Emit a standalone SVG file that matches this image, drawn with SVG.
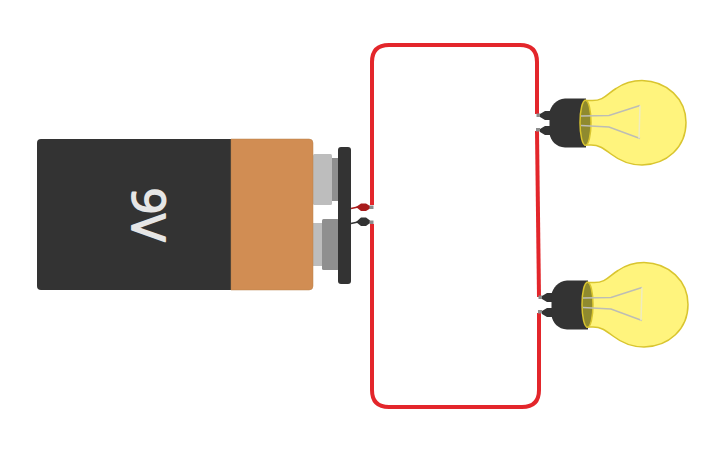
<svg xmlns="http://www.w3.org/2000/svg" width="725" height="453" viewBox="0 0 725 453">
<style>
.wire{fill:none;stroke:#e3262b;stroke-width:4;stroke-linejoin:round}
.glass{fill:#fff47d;stroke:#d9c52f;stroke-width:1.5}
.fil{fill:none;stroke:#bdbdb5;stroke-width:1.5}
.tip{fill:#8c8c8c}
.dark{fill:#333}
</style>
<defs>
<g id="lamp">
<rect class="tip" x="536.500" y="113.500" width="4" height="3.500"/>
<rect class="tip" x="536" y="128" width="4" height="3.500"/>
<path class="dark" d="M540 114L545 111L551 111L551 120L545 120L540 117ZM540 129L545 126L551 126L551 135L545 135L540 132Z"/>
<path class="dark" d="M586 98.500L565 98.500C556 99 551 106 549.500 112L549.500 134C551 141 556 147 565 147.500L586 147.500Z"/>
<path class="glass" d="M585 100.500L591 100.500C604 101 607 94 616 88.500C624 83 633 80.500 642 80.500C667 81 686 99 686 122.500C686 147 667 164.500 642 165C630 165 620 161 611 154C603 148 599 145 591 145L585 145Z"/>
<ellipse cx="585.500" cy="122.700" rx="5.500" ry="22.500" fill="#8f8a2e" stroke="#d9c52f" stroke-width="1.500"/>
<path class="fil" d="M581 116L609 115.500L640 105.500M640 138.500L609 127L581 125.500"/>
<path d="M640 105.500L639 138.500" fill="none" stroke="#f0ecc0" stroke-width="1.500"/>
</g>
</defs>
<rect width="725" height="453" fill="#fff"/>
<g id="battery">
<rect x="313" y="154" width="19" height="51" rx="1.500" fill="#bdbdbd"/>
<rect x="332" y="158" width="7" height="43" fill="#8f8f8f"/>
<rect x="313" y="223" width="10" height="43" fill="#bdbdbd"/>
<rect x="322" y="219" width="17" height="51" rx="1.500" fill="#8f8f8f"/>
<path fill="#333" d="M232 139L41 139Q37 139 37 143L37 286Q37 290 41 290L232 290Z"/>
<path fill="#d18d53" stroke="#b98049" stroke-width="0.500" d="M231 139L309 139Q313 139 313 143L313 286Q313 290 309 290L231 290Z"/>
<text transform="translate(132 214.500) rotate(90)" text-anchor="middle" font-family="'Open Sans','Liberation Sans',sans-serif" font-size="46" fill="#e6e6e6" stroke="#e6e6e6" stroke-width="1.800" stroke-linejoin="round">9V</text>
</g>
<g id="battery-clip">
<rect x="338" y="147" width="13" height="137" rx="3" fill="#333"/>
<path d="M351 208.500L358 207" stroke="#a81c1c" stroke-width="1.500" fill="none"/>
<path fill="#a81c1c" d="M356 207L361 203.500L366 203.500L370 206L370 208.500L366 211L361 211Z"/>
<rect class="tip" x="369.500" y="205.500" width="4" height="3.500"/>
<path d="M351 223.500L358 222" stroke="#333" stroke-width="1.500" fill="none"/>
<path class="dark" d="M356 222L361 217.500L366 217.500L370 220.500L370 223L366 226L361 226Z"/>
<rect class="tip" x="369.500" y="220.500" width="4" height="3.500"/>
</g>
<g id="connectors">
<path class="wire" d="M372 205L372 62Q372 45 389 45L520 45Q537 45 537 62L537 114"/>
<path class="wire" d="M537 131L539 297"/>
<path class="wire" d="M539 313L539 390Q539 407 522 407L389 407Q372 407 372 390L372 224"/>
</g>
<g id="bulb-1"><use href="#lamp"/></g>
<g id="bulb-2"><use href="#lamp" transform="translate(2 182)"/></g>
</svg>
